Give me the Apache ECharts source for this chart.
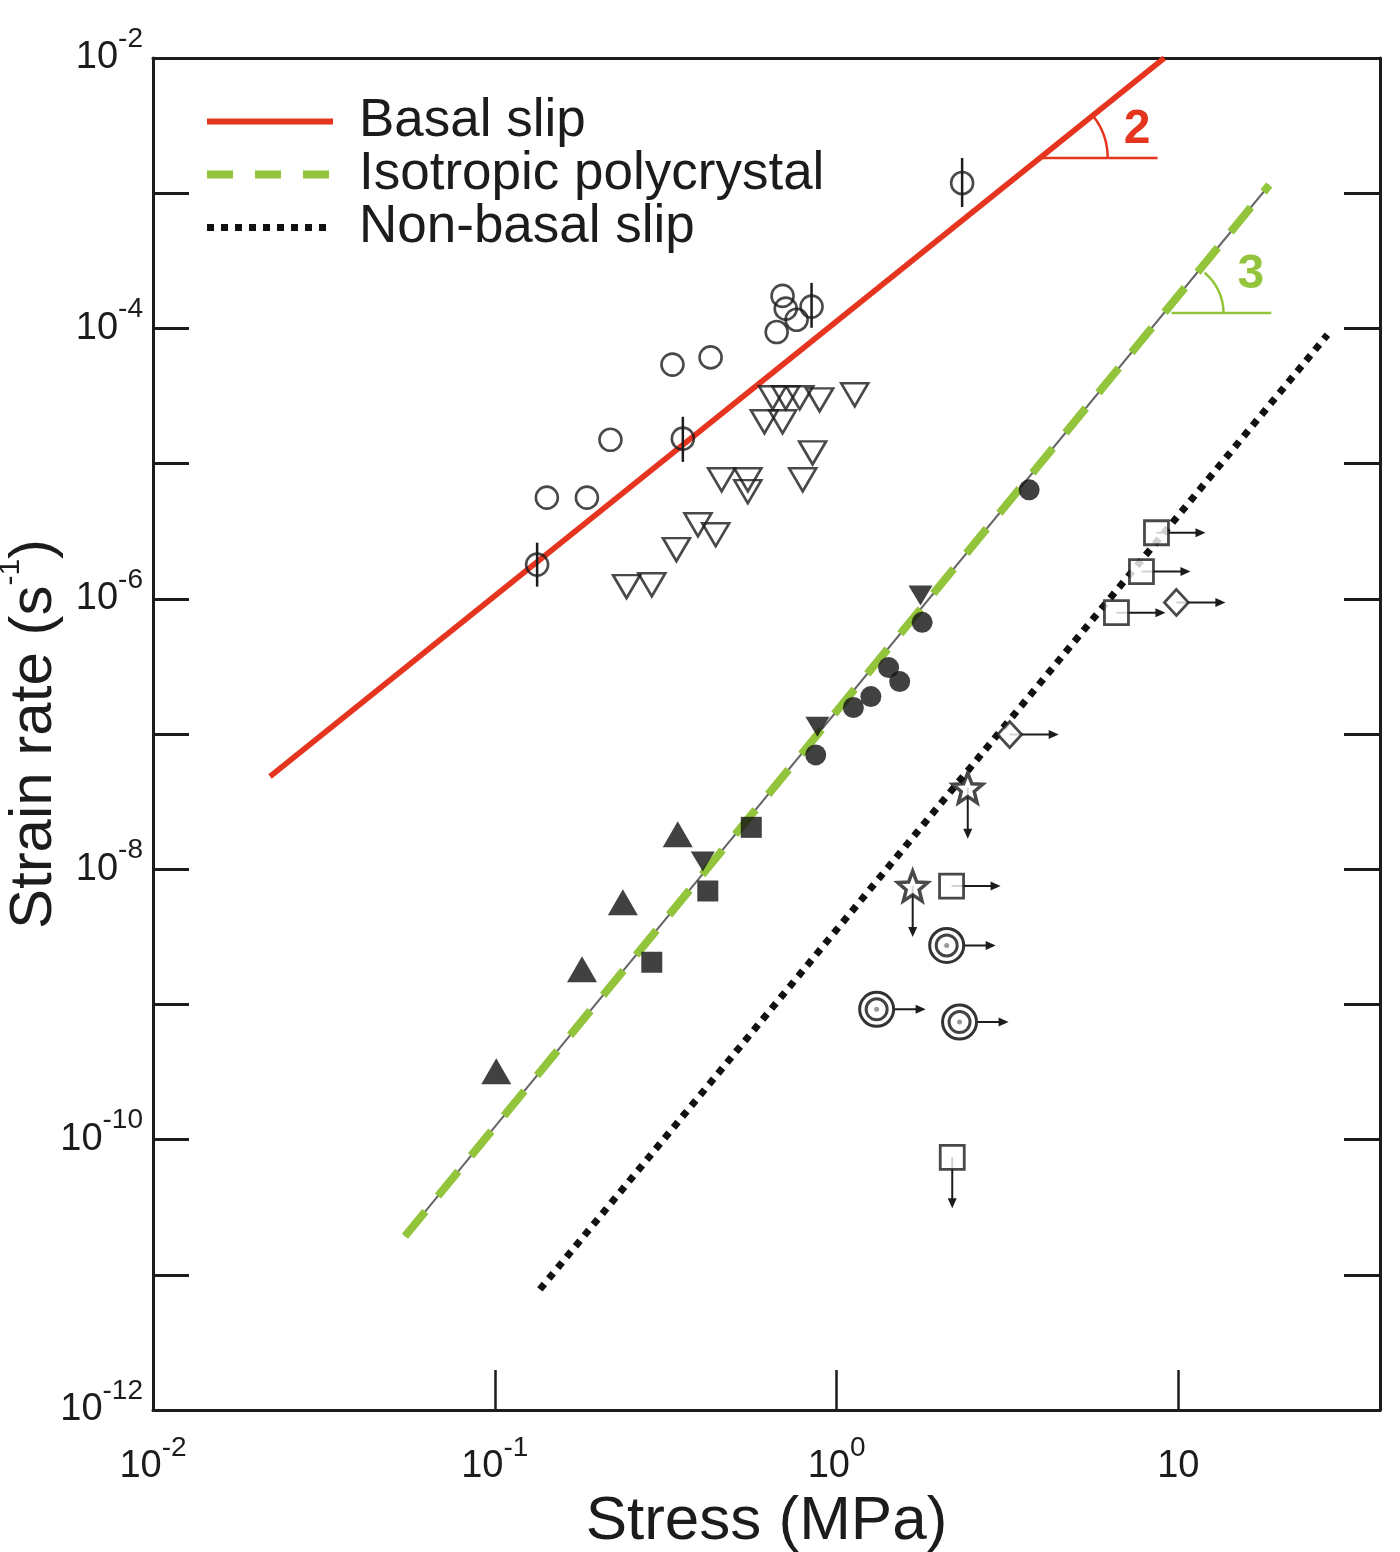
<!DOCTYPE html>
<html><head><meta charset="utf-8">
<script src="https://cdn.jsdelivr.net/npm/echarts@6/dist/echarts.min.js"></script>
<style>html,body{margin:0;padding:0;background:#fff}#c{width:1400px;height:1552px}</style>
</head><body><div id="c"></div>
<script>
// ---------------- data (stress in MPa, strain rate in 1/s) ----------------
const xTickExponents = [-2, -1, 0, 1];
const yTickExponents = [-12, -10, -8, -6, -4, -2];

const basalLine      = [[0.0220, 4.85e-8], [9.10, 1.0e-2]];
const isotropicLine  = [[0.0546, 1.93e-11], [18.45, 1.15e-3]];
const nonBasalLine   = [[0.1355, 7.8e-12], [27.3, 8.97e-5]];

const openCircles = [[0.133,1.79e-6],[0.142,5.6e-6],[0.186,5.6e-6],[0.218,1.50e-5],[0.331,5.4e-5],[0.428,6.1e-5],
  [0.355,1.53e-5],[0.668,9.4e-5],[0.695,1.74e-4],[0.710,1.40e-4],[0.764,1.16e-4],[0.845,1.45e-4],[2.33,1.19e-3]];
const errorBars = [[0.133,1.23e-6,2.6e-6],[0.355,1.03e-5,2.22e-5],[0.845,1.01e-4,2.17e-4],[2.33,7.9e-4,1.82e-3]];
const openTrianglesDown = [[0.243,1.23e-6],[0.288,1.27e-6],[0.340,2.31e-6],[0.393,3.53e-6],[0.443,2.98e-6],
  [0.461,7.6e-6],[0.550,7.6e-6],[0.550,6.2e-6],[0.796,7.6e-6],[0.851,1.20e-5],[0.615,2.04e-5],[0.695,2.04e-5],
  [0.650,3.07e-5],[0.710,3.07e-5],[0.780,3.07e-5],[0.892,2.96e-5],[1.13,3.23e-5]];
const filledCircles = [[3.66,6.4e-6],[1.78,6.7e-7],[1.42,3.1e-7],[1.53,2.44e-7],[1.26,1.89e-7],[1.12,1.57e-7],[0.869,7.0e-8]];
const filledTrianglesDown = [[1.76,1.06e-6],[0.879,1.13e-7],[0.406,1.14e-8]];
const filledTrianglesUp = [[0.343,1.81e-8],[0.237,5.7e-9],[0.180,1.82e-9],[0.101,3.2e-10]];
const filledSquares = [[0.563,2.04e-8],[0.420,6.9e-9],[0.288,2.05e-9]];
const openSquares = [[8.63,3.08e-6],[7.80,1.59e-6],[6.59,7.9e-7],[2.17,7.5e-9],[2.18,7.4e-11]];
const openDiamonds = [[9.87,9.4e-7],[3.21,9.9e-8]];
const openStars = [[2.42,4.0e-8],[1.67,7.5e-9]];
const doubleCircles = [[2.10,2.73e-9],[1.31,9.2e-10],[2.29,7.4e-10]];
const rightArrows = [[8.63,3.08e-6],[7.80,1.59e-6],[6.59,7.9e-7],[9.87,9.4e-7],[3.21,9.9e-8],[2.17,7.5e-9],[2.10,2.73e-9],[1.31,9.2e-10],[2.29,7.4e-10]];
const downArrows = [[2.42,4.0e-8],[1.67,7.5e-9],[2.18,7.4e-11]];

const slope2Base = [[3.93,1.82e-3],[8.69,1.82e-3]];
const slope3Base = [[9.55,1.30e-4],[18.7,1.30e-4]];
const legendNames = ['Basal slip', 'Isotropic polycrystal', 'Non-basal slip'];

// ---------------- chart ----------------
const RED = '#e6351f', GREEN = '#92c43c', INK = '#1c1c1c';
const FONT = '"Liberation Sans", Arial, Helvetica, sans-serif';
const L = a => a.map(p => [Math.log10(p[0]), Math.log10(p[1])]);

function expLabel(v, evenOnly) {
  if (Math.abs(v - Math.round(v)) > 1e-6) return '';
  v = Math.round(v);
  if (evenOnly && v % 2 !== 0) return '';
  if (v === 1) return '{b|10}';
  return '{b|10}{s|' + (v < 0 ? '-' : '') + Math.abs(v) + '}';
}
const tickRich = {
  b: {fontSize: 38, fontFamily: FONT, color: INK, padding: [14, 0, 14, 0]},
  s: {fontSize: 28, fontFamily: FONT, color: INK, verticalAlign: 'top'}
};
const axisLineStyle = {color: INK, width: 3};

const star = 'path://M0,-10 L2.6,-3.4 L9.5,-3.1 L4.1,1.3 L5.9,8.1 L0,4.3 L-5.9,8.1 L-4.1,1.3 L-9.5,-3.1 L-2.6,-3.4 Z';
const openStyle = {color: '#fff', borderColor: INK, borderWidth: 2.8};
const openStyleT = {color: 'rgba(0,0,0,0)', borderColor: INK, borderWidth: 2.6};

function scatter(name, data, symbol, size, style, extra) {
  return Object.assign({type: 'scatter', name: name, data: L(data), symbol: symbol, symbolSize: size,
    itemStyle: style, silent: true, z: 5}, extra || {});
}

const option = {
  backgroundColor: '#fff',
  animation: false,
  grid: {left: 153, right: 20, top: 58, bottom: 142, containLabel: false, outerBoundsMode: 'none'},
  xAxis: [{
    type: 'value', min: -2, max: 1.59, interval: 1, position: 'bottom',
    axisLine: {show: true, onZero: false, lineStyle: axisLineStyle},
    axisTick: {show: true, inside: true, length: 40, lineStyle: {color: INK, width: 2.5}},
    splitLine: {show: false},
    axisLabel: {formatter: v => expLabel(v, false), margin: 24, rich: tickRich},
    name: 'Stress (MPa)', nameLocation: 'middle', nameGap: 75,
    nameTextStyle: {fontSize: 62, fontFamily: FONT, color: INK}
  }, {
    type: 'value', min: -2, max: 1.59, interval: 1, position: 'top',
    axisLine: {show: true, onZero: false, lineStyle: axisLineStyle},
    axisTick: {show: false}, axisLabel: {show: false}, splitLine: {show: false}
  }],
  yAxis: [{
    type: 'value', min: -12, max: -2, interval: 1, position: 'left',
    axisLine: {show: true, onZero: false, lineStyle: axisLineStyle},
    axisTick: {show: true, inside: true, length: 36, lineStyle: {color: INK, width: 3}},
    splitLine: {show: false},
    axisLabel: {formatter: v => expLabel(v, true), margin: 10, rich: tickRich},
    name: '{a|Strain rate (s}{s|-1}{a|)}', nameLocation: 'middle', nameGap: 89, nameRotate: 90,
    nameMoveOverlap: false,
    nameTextStyle: {rich: {
      a: {fontSize: 60, fontFamily: FONT, color: INK, padding: [8, 0, 0, 0]},
      s: {fontSize: 30, fontFamily: FONT, color: INK, verticalAlign: 'top'}
    }}
  }, {
    type: 'value', min: -12, max: -2, interval: 1, position: 'right',
    axisLine: {show: true, onZero: false, lineStyle: axisLineStyle},
    axisTick: {show: true, inside: true, length: 36, lineStyle: {color: INK, width: 3}},
    axisLabel: {show: false}, splitLine: {show: false}
  }],
  legend: {
    data: [
      {name: legendNames[0], lineStyle: {color: RED, width: 6, type: 'solid'}},
      {name: legendNames[1], lineStyle: {color: GREEN, width: 8, type: [26, 22]}},
      {name: legendNames[2], lineStyle: {color: '#111', width: 7, type: 'dotted'}}
    ],
    orient: 'vertical', left: 198, top: 90, itemWidth: 126, itemHeight: 20, itemGap: 0,
    selectedMode: false,
    itemStyle: {opacity: 0},
    textStyle: {fontSize: 53, fontFamily: FONT, color: INK, padding: [0, 0, 0, 21]}
  },
  series: [
    {type: 'line', name: 'iso-underlay', data: L(isotropicLine), symbol: 'none', silent: true,
      lineStyle: {color: '#666', width: 2}, z: 2},
    {type: 'line', name: 'Basal slip', data: L(basalLine), symbol: 'none', silent: true,
      lineStyle: {color: RED, width: 5.5}, itemStyle: {color: RED}, z: 3},
    {type: 'line', name: 'Isotropic polycrystal', data: L(isotropicLine), symbol: 'none', silent: true,
      lineStyle: {color: GREEN, width: 8, type: [32, 20]}, itemStyle: {color: GREEN}, z: 3},
    {type: 'line', name: 'Non-basal slip', data: L(nonBasalLine), symbol: 'none', silent: true,
      lineStyle: {color: '#111', width: 7, type: 'dotted'}, itemStyle: {color: '#111'}, z: 3},
    {type: 'line', name: 'slope2', data: L(slope2Base), symbol: 'none', silent: true,
      lineStyle: {color: RED, width: 2.5}, z: 3},
    {type: 'line', name: 'slope3', data: L(slope3Base), symbol: 'none', silent: true,
      lineStyle: {color: GREEN, width: 2.5}, z: 3},
    // arrows (drawn below the markers)
    {type: 'custom', name: 'rightArrows', data: L(rightArrows), silent: true, z: 4,
      renderItem: (params, api) => {
        const p = api.coord([api.value(0), api.value(1)]);
        const x1 = p[0] + 40, y = p[1];
        return {type: 'group', children: [
          {type: 'line', shape: {x1: p[0], y1: y, x2: x1, y2: y}, style: {stroke: INK, lineWidth: 2}},
          {type: 'polygon', shape: {points: [[x1 + 9, y], [x1 - 1, y - 4.5], [x1 - 1, y + 4.5]]}, style: {fill: INK}}
        ]};
      }},
    {type: 'custom', name: 'downArrows', data: L(downArrows), silent: true, z: 4,
      renderItem: (params, api) => {
        const p = api.coord([api.value(0), api.value(1)]);
        const x = p[0], y1 = p[1] + 42;
        return {type: 'group', children: [
          {type: 'line', shape: {x1: x, y1: p[1], x2: x, y2: y1}, style: {stroke: INK, lineWidth: 2}},
          {type: 'polygon', shape: {points: [[x, y1 + 9], [x - 4.5, y1 - 1], [x + 4.5, y1 - 1]]}, style: {fill: INK}}
        ]};
      }},
    scatter('openCircles', openCircles, 'circle', 22, openStyleT),
    scatter('openTrianglesDown', openTrianglesDown, 'triangle', [27, 23], openStyleT, {symbolRotate: 180}),
    scatter('filledCircles', filledCircles, 'circle', 21, {color: '#111'}),
    scatter('filledTrianglesDown', filledTrianglesDown, 'triangle', [24, 20], {color: '#111'}, {symbolRotate: 180}),
    scatter('filledTrianglesUp', filledTrianglesUp, 'triangle', [30, 26], {color: '#111'}),
    scatter('filledSquares', filledSquares, 'rect', 21, {color: '#111'}),
    scatter('openSquares', openSquares, 'rect', 24, openStyle),
    scatter('openDiamonds', openDiamonds, 'diamond', [24, 26], openStyle),
    scatter('openStars', openStars, star, 30, {color: '#fff', borderColor: INK, borderWidth: 3.5}),
    {type: 'custom', name: 'doubleCircles', data: L(doubleCircles), silent: true, z: 5,
      renderItem: (params, api) => {
        const p = api.coord([api.value(0), api.value(1)]);
        return {type: 'group', children: [
          {type: 'circle', shape: {cx: p[0], cy: p[1], r: 17}, style: {fill: '#fff', stroke: '#333', lineWidth: 3}},
          {type: 'circle', shape: {cx: p[0], cy: p[1], r: 10.5}, style: {fill: 'none', stroke: '#444', lineWidth: 3}},
          {type: 'circle', shape: {cx: p[0], cy: p[1], r: 2.5}, style: {fill: '#999'}}
        ]};
      }},
    {type: 'custom', name: 'errorBars', data: errorBars.map(e => [Math.log10(e[0]), Math.log10(e[1]), Math.log10(e[2])]),
      silent: true, z: 6,
      renderItem: (params, api) => {
        const a = api.coord([api.value(0), api.value(1)]);
        const b = api.coord([api.value(0), api.value(2)]);
        return {type: 'line', shape: {x1: a[0], y1: a[1], x2: b[0], y2: b[1]}, style: {stroke: INK, lineWidth: 2.5}};
      }}
  ]
};

const chart = echarts.init(document.getElementById('c'), null, {renderer: 'canvas'});
chart.setOption(option);

// slope indicators (arc + number), anchored to data coordinates
function px(pt) { return chart.convertToPixel({xAxisIndex: 0, yAxisIndex: 0}, [Math.log10(pt[0]), Math.log10(pt[1])]); }
function lineAngle(line) {
  const a = px(line[0]), b = px(line[1]);
  return Math.atan2(a[1] - b[1], b[0] - a[0]);
}
const a2 = px(slope2Base[0]), a3 = px(slope3Base[0]);
const ang2 = lineAngle(basalLine), ang3 = lineAngle(isotropicLine);
chart.setOption({graphic: [
  {type: 'arc', silent: true, z: 10, shape: {cx: a2[0], cy: a2[1], r: 68, startAngle: -ang2, endAngle: 0, clockwise: true},
    style: {stroke: RED, lineWidth: 2.5, fill: null}},
  {type: 'text', silent: true, z: 10, x: a2[0] + 84, y: a2[1] - 52,
    style: {text: '2', font: 'bold 48px ' + FONT, fill: RED}},
  {type: 'arc', silent: true, z: 10, shape: {cx: a3[0], cy: a3[1], r: 52, startAngle: -ang3, endAngle: 0, clockwise: true},
    style: {stroke: GREEN, lineWidth: 2.5, fill: null}},
  {type: 'text', silent: true, z: 10, x: a3[0] + 66, y: a3[1] - 62,
    style: {text: '3', font: 'bold 48px ' + FONT, fill: GREEN}}
]});
</script>
</body></html>
